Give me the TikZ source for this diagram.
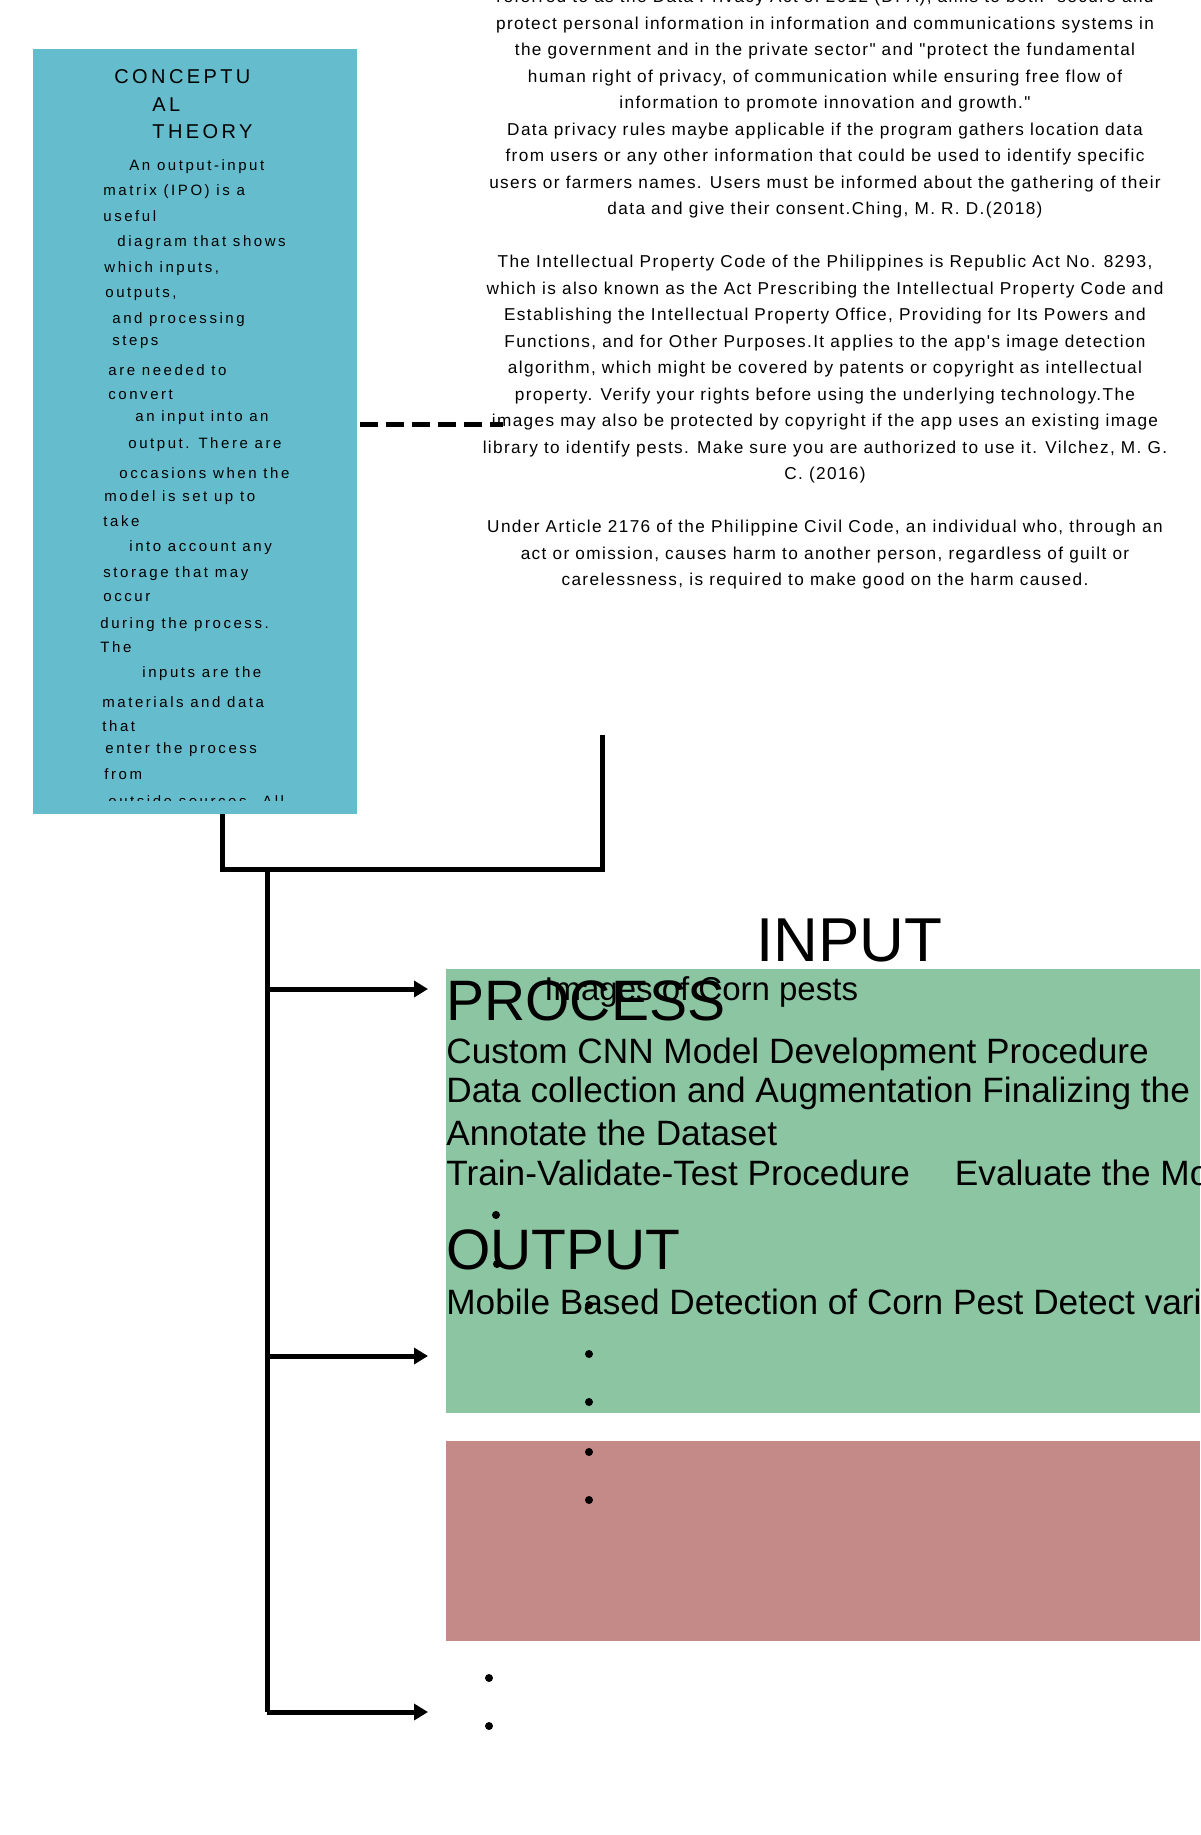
\documentclass[tikz,border=0pt]{standalone}
\usepackage{fontspec}
\setmainfont{Liberation Sans}
\newfontfamily\spaced[LetterSpace=17]{Liberation Sans}
\newfontfamily\lawfont[LetterSpace=8]{Liberation Sans}
\usetikzlibrary{arrows.meta}
\definecolor{bluebox}{RGB}{101,188,205}
\definecolor{greenbox}{RGB}{140,197,162}
\definecolor{redbox}{RGB}{196,138,136}
\tikzset{
 conn/.style={line width=2.5pt},
 arr/.style={conn,-{Triangle[length=7pt,width=8pt]}},
 bl/.style={anchor=west,inner sep=0,font=\spaced\fontsize{7.5}{9}\selectfont},
 gt/.style={anchor=west,inner sep=0,font=\fontsize{17.6}{19}\selectfont},
 big/.style={anchor=west,inner sep=0,font=\fontsize{28.5}{30}\selectfont},
 dot/.style={circle,fill=black,inner sep=0,minimum size=4pt},
}
\begin{document}
\begin{tikzpicture}[x=0.5pt,y=-0.5pt]
\useasboundingbox (0,0) rectangle (1200,1835);
\clip (0,0) rectangle (1200,1835);
% blue box
\fill[bluebox] (33,49) rectangle (357,814);
\node[anchor=west,inner sep=0,font=\spaced\fontsize{10}{12}\selectfont] (t1) at (114,77) {CONCEPTU};
\node[anchor=west,inner sep=0,font=\spaced\fontsize{10}{12}\selectfont] (t2) at (152,105) {AL};
\node[anchor=west,inner sep=0,font=\spaced\fontsize{10}{12}\selectfont] (t3) at (152,132) {THEORY};
\begin{scope}
\clip (33,49) rectangle (357,800);
\node[bl] at (129,167) {An output-input};
\node[bl] at (103,192) {matrix (IPO) is a};
\node[bl] at (103,216) {useful};
\node[bl] at (117,243) {diagram that shows};
\node[bl] at (104,269) {which inputs,};
\node[bl] at (105,294) {outputs,};
\node[bl] at (112,320) {and processing};
\node[bl] at (112,342) {steps};
\node[bl] at (108,370) {are needed to};
\node[bl] at (108,395) {convert};
\node[bl] at (135,418) {an input into an};
\node[bl] at (128,445) {output. There are};
\node[bl] at (119,473) {occasions when the};
\node[bl] at (104,498) {model is set up to};
\node[bl] at (103,521) {take};
\node[bl] at (129,548) {into account any};
\node[bl] at (103,574) {storage that may};
\node[bl] at (103,598) {occur};
\node[bl] at (100,625) {during the process.};
\node[bl] at (100,647) {The};
\node[bl] at (142,674) {inputs are the};
\node[bl] at (102,702) {materials and data};
\node[bl] at (102,726) {that};
\node[bl] at (105,750) {enter the process};
\node[bl] at (104,774) {from};
\node[bl] at (108,801) {outside sources. All};
\end{scope}
% top right text
\node[anchor=north,inner sep=0,align=center,font=\lawfont\fontsize{8.6}{13.25}\selectfont] (law) at (825,-10) {%
referred to as the Data Privacy Act of 2012 (DPA), aims to both "secure and\\
protect personal information in information and communications systems in\\
the government and in the private sector" and "protect the fundamental\\
human right of privacy, of communication while ensuring free flow of\\
information to promote innovation and growth."\\
Data privacy rules maybe applicable if the program gathers location data\\
from users or any other information that could be used to identify specific\\
users or farmers names. Users must be informed about the gathering of their\\
data and give their consent.Ching, M. R. D.(2018)\\[13.25pt]
The Intellectual Property Code of the Philippines is Republic Act No. 8293,\\
which is also known as the Act Prescribing the Intellectual Property Code and\\
Establishing the Intellectual Property Office, Providing for Its Powers and\\
Functions, and for Other Purposes.It applies to the app's image detection\\
algorithm, which might be covered by patents or copyright as intellectual\\
property. Verify your rights before using the underlying technology.The\\
images may also be protected by copyright if the app uses an existing image\\
library to identify pests. Make sure you are authorized to use it. Vilchez, M. G.\\
C. (2016)\\[13.25pt]
Under Article 2176 of the Philippine Civil Code, an individual who, through an\\
act or omission, causes harm to another person, regardless of guilt or\\
carelessness, is required to make good on the harm caused.};
\coordinate (d1) at (360,424);
\coordinate (d2) at (503,424);
\draw[conn,dash pattern=on 9pt off 4pt] (d1) -- (d2);
% connectors
\coordinate (b0) at (222,814);
\coordinate (b1) at (222,869);
\coordinate (c1) at (602,869);
\coordinate (c0) at (602,735);
\coordinate (tr) at (267,869);
\coordinate (tb) at (267,1712);
\draw[conn] (b0) -- (b1) -- (c1) -- (c0);
\draw[conn] (tr) -- (tb);
\coordinate (a1) at (267,989); \coordinate (e1) at (428,989);
\coordinate (a2) at (267,1356); \coordinate (e2) at (428,1356);
\coordinate (e3) at (428,1712);
\draw[arr] (a1) -- (e1);
\draw[arr] (a2) -- (e2);
\draw[arr] (tb) -- (e3);
% boxes
\fill[greenbox] (446,969) rectangle (1200,1413);
\fill[redbox] (446,1441) rectangle (1200,1641);
\node[anchor=center,inner sep=0,font=\fontsize{31}{33}\selectfont] (inp) at (849,940) {INPUT};
\node[big] (proc) at (446,1001) {PROCESS};
\node[gt,font=\fontsize{16.5}{18}\selectfont] (img) at (544,992) {Images of Corn pests};
\node[gt] at (446,1054) {Custom CNN Model Development Procedure};
\node[gt] at (446,1093) {Data collection and Augmentation Finalizing the Model};
\node[gt] at (446,1133) {Annotate the Dataset};
\node[gt] at (446,1173) {Train-Validate-Test Procedure\quad\ Evaluate the Model};
\node[big] (out) at (446,1250) {OUTPUT};
\node[gt] at (446,1305) {Mobile Based Detection of Corn Pest Detect various pests};
% dots
\foreach \p in {(496,1215),(497,1264),(589,1305),(589,1354),(589,1402),(589,1452),(589,1500),(489,1678),(489,1726)}
  \node[dot] at \p {};
\end{tikzpicture}
\end{document}
